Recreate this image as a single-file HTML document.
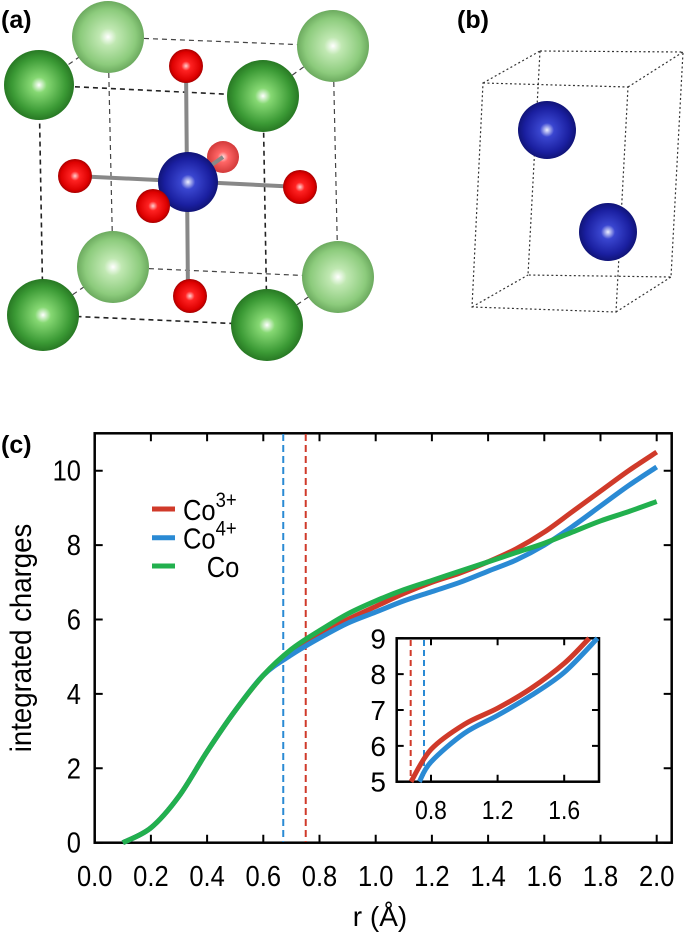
<!DOCTYPE html>
<html><head><meta charset="utf-8"><style>
html,body{margin:0;padding:0;background:#fff;}
svg{display:block;font-family:"Liberation Sans",Arial,sans-serif;}
</style></head><body>
<svg id="fig" width="685" height="933" viewBox="0 0 685 933" xmlns="http://www.w3.org/2000/svg">
<defs>
<radialGradient id="gDark" cx="0.5" cy="0.5" r="0.55" fx="0.5" fy="0.5"><stop offset="0" stop-color="#ffffff"/><stop offset="0.2" stop-color="#86d873"/><stop offset="0.7" stop-color="#3b9a35"/><stop offset="1" stop-color="#1f6a1c"/></radialGradient>
<radialGradient id="gLight" cx="0.5" cy="0.5" r="0.55"><stop offset="0" stop-color="#ffffff"/><stop offset="0.22" stop-color="#c0e8b2"/><stop offset="0.7" stop-color="#8ccb7c"/><stop offset="1" stop-color="#5e9c52"/></radialGradient>
<radialGradient id="gBlue" cx="0.5" cy="0.5" r="0.55"><stop offset="0" stop-color="#eef0ff"/><stop offset="0.22" stop-color="#3a46d0"/><stop offset="0.7" stop-color="#1a1fa0"/><stop offset="1" stop-color="#0c0f66"/></radialGradient>
<radialGradient id="gRed" cx="0.5" cy="0.5" r="0.55"><stop offset="0" stop-color="#ffd0d0"/><stop offset="0.25" stop-color="#f22"/><stop offset="0.75" stop-color="#d00"/><stop offset="1" stop-color="#8a0000"/></radialGradient>
<radialGradient id="gRedL" cx="0.5" cy="0.5" r="0.55"><stop offset="0" stop-color="#ffe0e0"/><stop offset="0.3" stop-color="#f66"/><stop offset="1" stop-color="#c33"/></radialGradient>
</defs>

<g>
<text x="1" y="28" font-size="25" font-weight="bold">(a)</text>
<g stroke="#222" stroke-width="1.6" stroke-dasharray="5,4" fill="none">
<path d="M108,37 L333,46 M108,37 L113,267 M333,46 L338,277 M113,267 L338,277" stroke-width="1.2" stroke="#444"/>
<path d="M39,85 L108,37 M263,96 L333,46 M43,315 L113,267 M267,325 L338,277" stroke-width="1.2" stroke="#444"/>
<path d="M39,85 L263,96 L267,325 L43,315 Z"/>
</g>
<circle cx="108" cy="37" r="36" fill="url(#gLight)"/>
<circle cx="333" cy="46" r="36" fill="url(#gLight)"/>
<circle cx="113" cy="267" r="36" fill="url(#gLight)"/>
<circle cx="338" cy="277" r="36" fill="url(#gLight)"/>
<circle cx="223" cy="157" r="16" fill="url(#gRedL)"/>
<g stroke="#888" stroke-width="4">
<path d="M186,66 L188,296 M75,176 L300,187 M153,206 L223,157"/>
</g>
<circle cx="186" cy="66" r="17" fill="url(#gRed)"/>
<circle cx="75" cy="176" r="17" fill="url(#gRed)"/>
<circle cx="300" cy="187" r="17" fill="url(#gRed)"/>
<circle cx="190" cy="296" r="17" fill="url(#gRed)"/>
<circle cx="188" cy="182" r="30" fill="url(#gBlue)"/>
<circle cx="153" cy="206" r="17" fill="url(#gRed)"/>
<circle cx="39" cy="85" r="35" fill="url(#gDark)"/>
<circle cx="263" cy="96" r="36" fill="url(#gDark)"/>
<circle cx="43" cy="315" r="36" fill="url(#gDark)"/>
<circle cx="267" cy="325" r="36" fill="url(#gDark)"/>
</g>

<g>
<text x="457" y="28" font-size="25" font-weight="bold">(b)</text>
<g stroke="#333" stroke-width="1.2" stroke-dasharray="2,2.5" fill="none">
<path d="M540,51 L683,52 L671,277 L528,275 Z"/>
<path d="M483,83 L628,87 L616,312 L472,307 Z"/>
<path d="M483,83 L540,51 M628,87 L683,52 M616,312 L671,277 M472,307 L528,275"/>
</g>
<circle cx="547" cy="130" r="29" fill="url(#gBlue)"/>
<circle cx="608" cy="232" r="29" fill="url(#gBlue)"/>
</g>

<text x="1" y="453" font-size="25" font-weight="bold">(c)</text>
<g id="chart"></g>
</svg>
<script>
const xs = [0.1,0.2,0.3,0.4,0.5,0.6,0.7,0.8,0.9,1.0,1.1,1.2,1.3,1.4,1.5,1.6,1.7,1.8,1.9,2.0];
const coValues  = [0,0.4,1.25,2.45,3.55,4.5,5.2,5.7,6.15,6.5,6.8,7.05,7.3,7.55,7.8,8.05,8.35,8.65,8.9,9.17];
const co3Values = [0,0.4,1.25,2.45,3.55,4.5,5.15,5.6,6.0,6.35,6.7,7.0,7.25,7.55,7.9,8.35,8.9,9.45,10.0,10.5];
const co4Values = [0,0.4,1.25,2.45,3.55,4.5,5.05,5.5,5.9,6.2,6.5,6.75,7.0,7.3,7.6,8.0,8.5,9.05,9.6,10.1];
const xTicks = [0.0,0.2,0.4,0.6,0.8,1.0,1.2,1.4,1.6,1.8,2.0];
const xTickLabels = ["0.0","0.2","0.4","0.6","0.8","1.0","1.2","1.4","1.6","1.8","2.0"];
const yTicks = [0,2,4,6,8,10];
const yTickLabels = ["0","2","4","6","8","10"];
const co3Radius = 0.751;
const co4Radius = 0.671;
const insetX3 = [0.68,0.8,1.0,1.2,1.4,1.6,1.75];
const insetCo3 = [5,5.9,6.6,7.05,7.6,8.3,9];
const insetX4 = [0.73,0.8,1.0,1.2,1.4,1.6,1.8];
const insetCo4 = [5,5.55,6.35,6.85,7.4,8.05,9];
const insetXTicks = [0.8,1.2,1.6];
const insetXLabels = ["0.8","1.2","1.6"];
const insetYTicks = [5,6,7,8,9];
const insetYLabels = ["5","6","7","8","9"];
const insetCo3Radius = 0.678;
const insetCo4Radius = 0.758;

const NS="http://www.w3.org/2000/svg";
const g=document.getElementById('chart');
function mk(tag,attrs,parent){const e=document.createElementNS(NS,tag);for(const k in attrs)e.setAttribute(k,attrs[k]);(parent||g).appendChild(e);return e;}
const RED="#d03a2a", BLUE="#2a8ad4", GREEN="#22b04e";
const X=v=>94.7+v*281; const Y=v=>842.7-v*37.2;
function smooth(pts){let d="M"+pts[0][0]+","+pts[0][1];for(let i=1;i<pts.length;i++){const p0=pts[i-2]||pts[i-1],p1=pts[i-1],p2=pts[i],p3=pts[i+1]||p2;const c1=[p1[0]+(p2[0]-p0[0])/6,p1[1]+(p2[1]-p0[1])/6],c2=[p2[0]-(p3[0]-p1[0])/6,p2[1]-(p3[1]-p1[1])/6];d+=" C"+c1+" "+c2+" "+p2;}return d;}

let frame=mk('rect',{x:94.7,y:433.3,width:577,height:409.4,fill:'none',stroke:'#000','stroke-width':2.5});


xTicks.forEach((t,i)=>{
  let tk=mk('path',{d:`M${X(t)},842.7 v-8 M${X(t)},433.3 v8`,stroke:'#000','stroke-width':2});
  
  
  let tl=mk('text',{x:X(t),y:886,'font-size':29,'text-anchor':'middle',transform:`translate(${X(t)},0) scale(0.88,1) translate(${-X(t)},0)`});
  tl.textContent=xTickLabels[i];
  
  
});
yTicks.forEach((t,i)=>{
  let tk=mk('path',{d:`M94.7,${Y(t)} h8 M671.7,${Y(t)} h-8`,stroke:'#000','stroke-width':2});
  
  
  let tl=mk('text',{x:81,y:Y(t)+10,'font-size':29,'text-anchor':'end',transform:`translate(81,0) scale(0.88,1) translate(-81,0)`});
  tl.textContent=yTickLabels[i];
  
  
});
let xt=mk('text',{x:380,y:926,'font-size':28,'text-anchor':'middle'});
xt.textContent="r (Å)";


let yt=mk('text',{x:0,y:0,'font-size':30,'text-anchor':'middle',transform:'translate(31,638) rotate(-90) scale(0.92,1)'});
yt.textContent="integrated charges";



let dv4=mk('line',{x1:X(co4Radius),x2:X(co4Radius),y1:434,y2:842,stroke:BLUE,'stroke-width':2,'stroke-dasharray':'7,4'});


let dv3=mk('line',{x1:X(co3Radius),x2:X(co3Radius),y1:434,y2:842,stroke:RED,'stroke-width':2,'stroke-dasharray':'7,4'});



function series(xa,ya,col,name,fx,fy,w){
  const p=mk('path',{d:smooth(xa.map((x,i)=>[fx(x),fy(ya[i])])),fill:'none',stroke:col,'stroke-width':w,'stroke-linejoin':'round'});
  
  
}
series(xs,co3Values,RED,'co3-line',X,Y,5);
series(xs,co4Values,BLUE,'co4-line',X,Y,5);
series(xs,coValues,GREEN,'co-line',X,Y,5);

const leg=[["Co","3+",RED,'legend-co3',509],["Co","4+",BLUE,'legend-co4',537.7],["Co","",GREEN,'legend-co',566]];
leg.forEach(l=>{
  const sw=mk('line',{x1:152,x2:175,y1:l[4],y2:l[4],stroke:l[2],'stroke-width':5});
  
  
  const t=mk('text',{x:l[1]?183:210,y:l[4]+11,'font-size':29,transform:`translate(183,0) scale(0.88,1) translate(-183,0)`});
  t.textContent=l[0];
  if(l[1]){const s=mk('tspan',{dy:-13,'font-size':21},t);s.textContent=l[1];}
  
  
});

const IX=v=>431+(v-0.8)*166.5; const IY=v=>781.7-(v-5)*35.85;
let ib=mk('rect',{x:396.7,y:638.3,width:202.3,height:143.4,fill:'#fff',stroke:'#000','stroke-width':2.5});


insetXTicks.forEach((t,i)=>{
  let tk=mk('path',{d:`M${IX(t)},781.7 v-7 M${IX(t)},638.3 v7`,stroke:'#000','stroke-width':2});
  
  
  let tl=mk('text',{x:IX(t),y:819,'font-size':26,'text-anchor':'middle',transform:`translate(${IX(t)},0) scale(0.88,1) translate(${-IX(t)},0)`});
  tl.textContent=insetXLabels[i];
  
  
});
insetYTicks.forEach((t,i)=>{
  let tk=mk('path',{d:`M396.7,${IY(t)} h7 M599,${IY(t)} h-7`,stroke:'#000','stroke-width':2});
  
  
  let tl=mk('text',{x:386,y:IY(t)+10,'font-size':28,'text-anchor':'end'});
  tl.textContent=insetYLabels[i];
  
  
});
let iv3=mk('line',{x1:IX(insetCo3Radius),x2:IX(insetCo3Radius),y1:640,y2:780,stroke:RED,'stroke-width':2,'stroke-dasharray':'6,4'});


let iv4=mk('line',{x1:IX(insetCo4Radius),x2:IX(insetCo4Radius),y1:640,y2:780,stroke:BLUE,'stroke-width':2,'stroke-dasharray':'6,4'});


series(insetX3,insetCo3,RED,'inset-co3-line',IX,IY,5);
series(insetX4,insetCo4,BLUE,'inset-co4-line',IX,IY,5);
</script>
</body></html>
